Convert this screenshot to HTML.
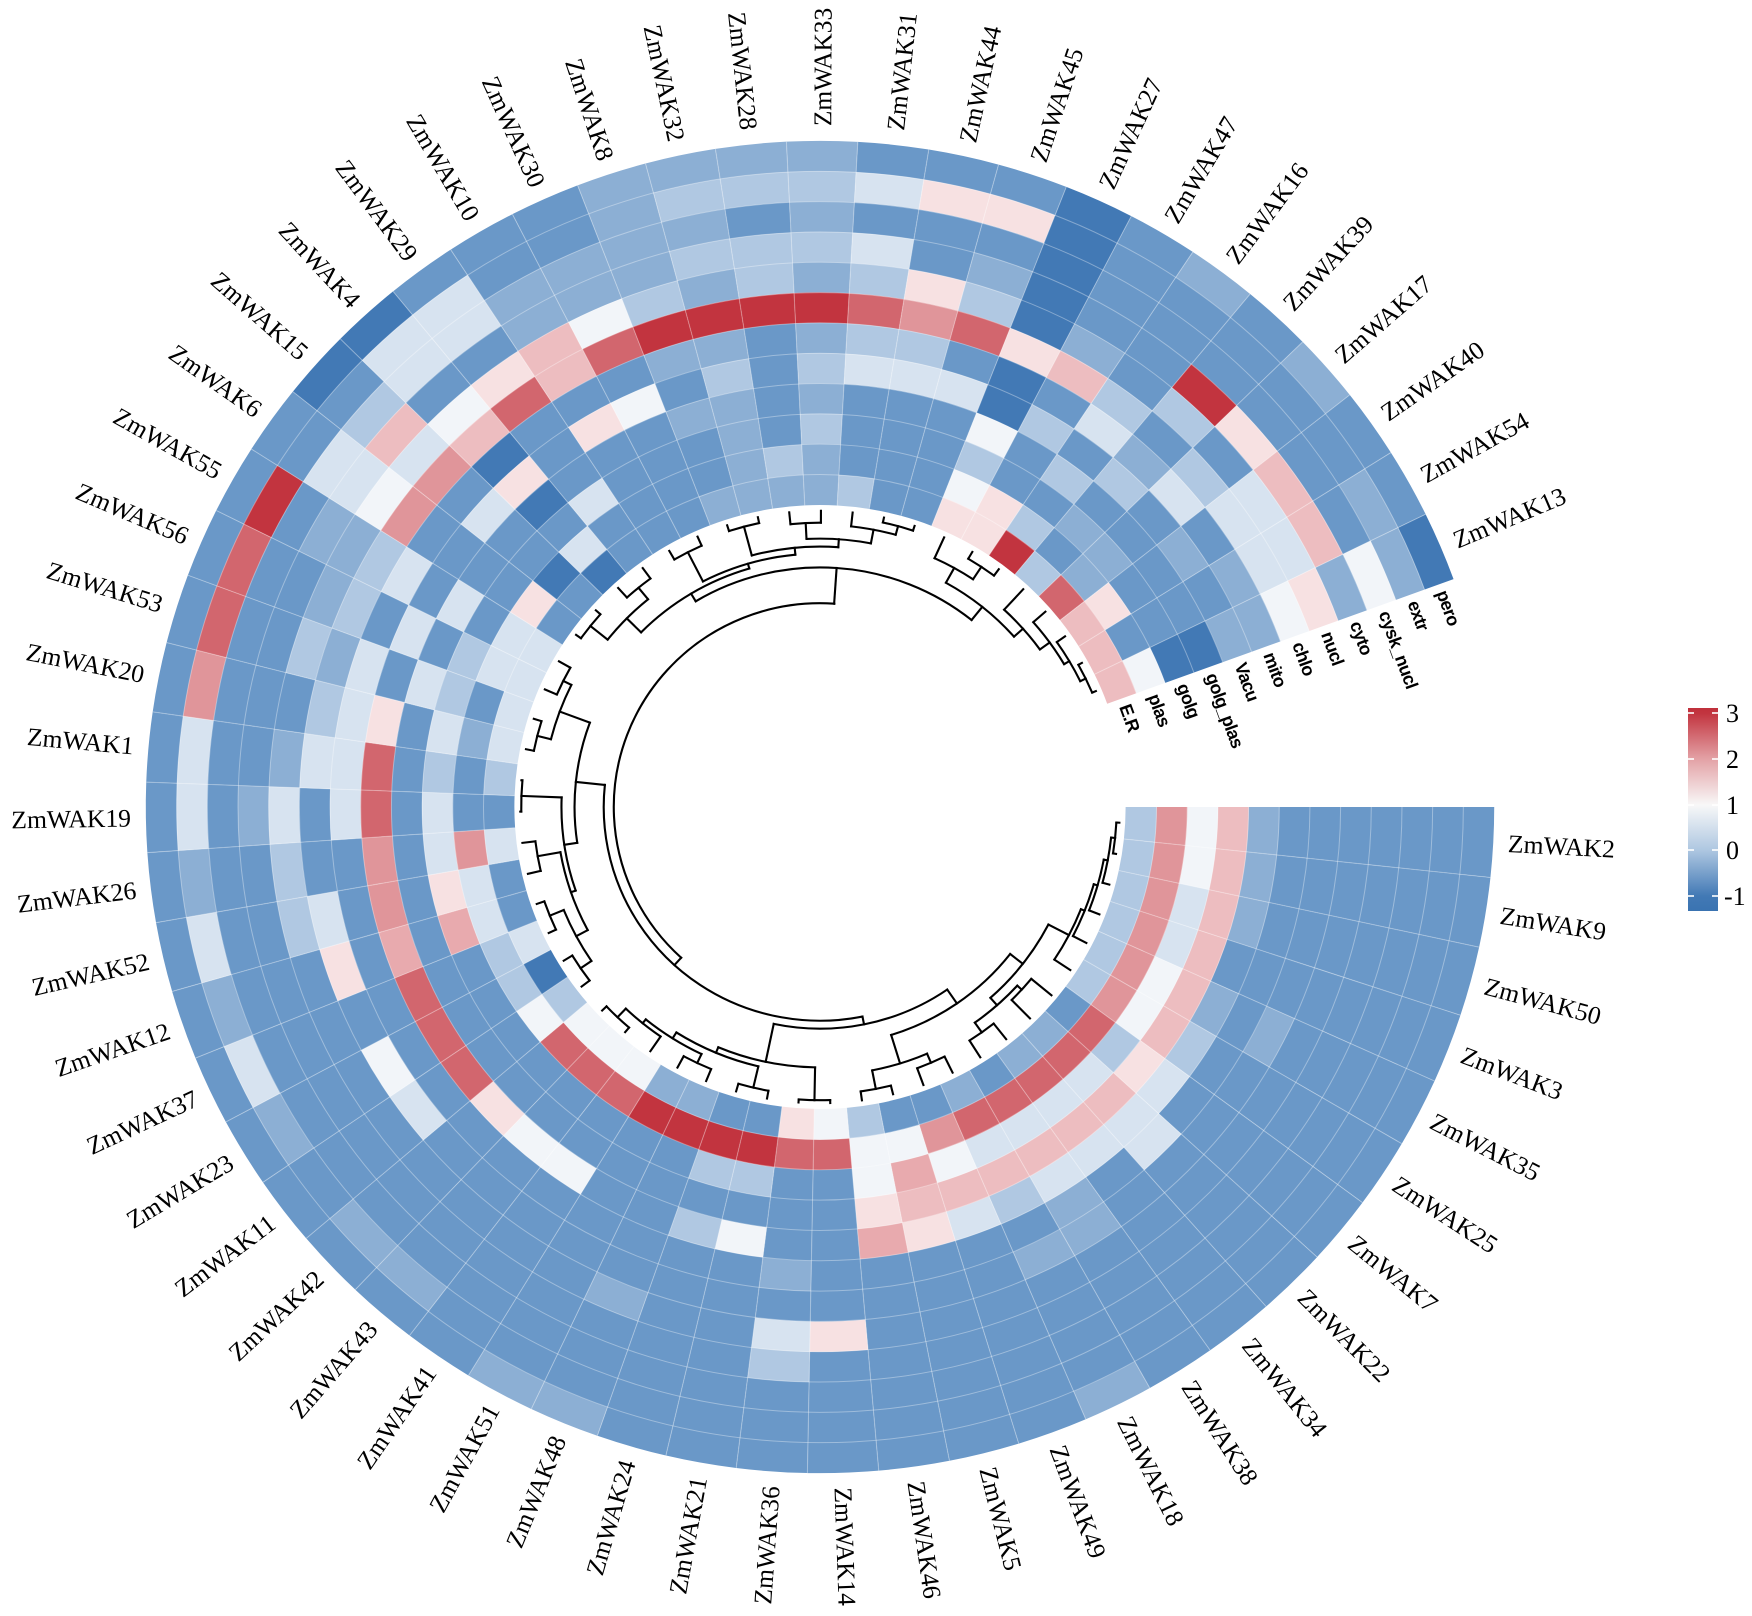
<!DOCTYPE html>
<html><head><meta charset="utf-8"><style>
html,body{margin:0;padding:0;background:#fff;overflow:hidden;}
svg{display:block;}
.tc{fill:none;stroke-width:30.9px;}
.q{stroke:#4279B5}.b{stroke:#6A98C8}.m{stroke:#8CAFD4}.l{stroke:#B0C8E2}.w{stroke:#D7E3F0}.v{stroke:#F2F5F9}
.p{stroke:#F7E1E2}.k{stroke:#EDBDC0}.h{stroke:#E8AAAE}.j{stroke:#E0959A}.r{stroke:#D2666E}.x{stroke:#C2343F}
.gl{font-family:"Liberation Serif","Times New Roman",serif;font-size:25.5px;fill:#000;}
.lg{font-family:"Liberation Serif","Times New Roman",serif;font-size:26px;fill:#000;}
.tl{font-family:"Liberation Sans",Arial,sans-serif;font-weight:bold;font-size:18px;letter-spacing:-0.6px;fill:#000;}
</style></head><body>
<svg width="1752" height="1616" viewBox="0 0 1752 1616" xmlns="http://www.w3.org/2000/svg">
<defs>
<circle id="t0" class="tc" r="654.75" stroke-dasharray="69.38 5000"/>
<circle id="t1" class="tc" r="624.25" stroke-dasharray="66.15 5000"/>
<circle id="t2" class="tc" r="593.75" stroke-dasharray="62.92 5000"/>
<circle id="t3" class="tc" r="563.25" stroke-dasharray="59.69 5000"/>
<circle id="t4" class="tc" r="532.75" stroke-dasharray="56.45 5000"/>
<circle id="t5" class="tc" r="502.25" stroke-dasharray="53.22 5000"/>
<circle id="t6" class="tc" r="471.75" stroke-dasharray="49.99 5000"/>
<circle id="t7" class="tc" r="441.25" stroke-dasharray="46.76 5000"/>
<circle id="t8" class="tc" r="410.75" stroke-dasharray="43.53 5000"/>
<circle id="t9" class="tc" r="380.25" stroke-dasharray="40.29 5000"/>
<circle id="t10" class="tc" r="349.75" stroke-dasharray="37.06 5000"/>
<circle id="t11" class="tc" r="319.25" stroke-dasharray="33.83 5000"/>
<linearGradient id="lg" x1="0" y1="0" x2="0" y2="1">
<stop offset="0" stop-color="#C0303B"/>
<stop offset="0.025" stop-color="#C2343F"/>
<stop offset="0.25" stop-color="#E3A1A5"/>
<stop offset="0.478" stop-color="#F8F8F8"/>
<stop offset="0.70" stop-color="#AEC7E1"/>
<stop offset="0.926" stop-color="#4279B5"/>
<stop offset="1" stop-color="#3A73B1"/>
</linearGradient>
</defs>
<rect width="1752" height="1616" fill="#fff"/>
<g transform="translate(820,807) scale(1.006,0.994)">
<!-- heatmap cells -->
<g transform="rotate(0)"><use href="#t0" class="b"/><use href="#t1" class="b"/><use href="#t2" class="b"/><use href="#t3" class="b"/><use href="#t4" class="b"/><use href="#t5" class="b"/><use href="#t6" class="b"/><use href="#t7" class="m"/><use href="#t8" class="k"/><use href="#t9" class="v"/><use href="#t10" class="j"/><use href="#t11" class="l"/></g>
<g transform="rotate(6.0714)"><use href="#t0" class="b"/><use href="#t1" class="b"/><use href="#t2" class="b"/><use href="#t3" class="b"/><use href="#t4" class="b"/><use href="#t5" class="b"/><use href="#t6" class="b"/><use href="#t7" class="m"/><use href="#t8" class="k"/><use href="#t9" class="v"/><use href="#t10" class="j"/><use href="#t11" class="l"/></g>
<g transform="rotate(12.1429)"><use href="#t0" class="b"/><use href="#t1" class="b"/><use href="#t2" class="b"/><use href="#t3" class="b"/><use href="#t4" class="b"/><use href="#t5" class="b"/><use href="#t6" class="b"/><use href="#t7" class="m"/><use href="#t8" class="k"/><use href="#t9" class="w"/><use href="#t10" class="j"/><use href="#t11" class="l"/></g>
<g transform="rotate(18.2143)"><use href="#t0" class="b"/><use href="#t1" class="b"/><use href="#t2" class="b"/><use href="#t3" class="b"/><use href="#t4" class="b"/><use href="#t5" class="b"/><use href="#t6" class="b"/><use href="#t7" class="b"/><use href="#t8" class="k"/><use href="#t9" class="w"/><use href="#t10" class="j"/><use href="#t11" class="l"/></g>
<g transform="rotate(24.2857)"><use href="#t0" class="b"/><use href="#t1" class="b"/><use href="#t2" class="b"/><use href="#t3" class="b"/><use href="#t4" class="b"/><use href="#t5" class="m"/><use href="#t6" class="b"/><use href="#t7" class="m"/><use href="#t8" class="k"/><use href="#t9" class="v"/><use href="#t10" class="j"/><use href="#t11" class="l"/></g>
<g transform="rotate(30.3571)"><use href="#t0" class="b"/><use href="#t1" class="b"/><use href="#t2" class="b"/><use href="#t3" class="b"/><use href="#t4" class="b"/><use href="#t5" class="b"/><use href="#t6" class="b"/><use href="#t7" class="l"/><use href="#t8" class="k"/><use href="#t9" class="v"/><use href="#t10" class="j"/><use href="#t11" class="l"/></g>
<g transform="rotate(36.4286)"><use href="#t0" class="b"/><use href="#t1" class="b"/><use href="#t2" class="b"/><use href="#t3" class="b"/><use href="#t4" class="b"/><use href="#t5" class="b"/><use href="#t6" class="b"/><use href="#t7" class="w"/><use href="#t8" class="p"/><use href="#t9" class="l"/><use href="#t10" class="r"/><use href="#t11" class="b"/></g>
<g transform="rotate(42.5)"><use href="#t0" class="b"/><use href="#t1" class="b"/><use href="#t2" class="b"/><use href="#t3" class="b"/><use href="#t4" class="b"/><use href="#t5" class="b"/><use href="#t6" class="w"/><use href="#t7" class="w"/><use href="#t8" class="k"/><use href="#t9" class="w"/><use href="#t10" class="r"/><use href="#t11" class="m"/></g>
<g transform="rotate(48.5714)"><use href="#t0" class="b"/><use href="#t1" class="b"/><use href="#t2" class="b"/><use href="#t3" class="b"/><use href="#t4" class="b"/><use href="#t5" class="b"/><use href="#t6" class="b"/><use href="#t7" class="w"/><use href="#t8" class="k"/><use href="#t9" class="w"/><use href="#t10" class="r"/><use href="#t11" class="m"/></g>
<g transform="rotate(54.6429)"><use href="#t0" class="b"/><use href="#t1" class="b"/><use href="#t2" class="b"/><use href="#t3" class="b"/><use href="#t4" class="b"/><use href="#t5" class="m"/><use href="#t6" class="m"/><use href="#t7" class="w"/><use href="#t8" class="k"/><use href="#t9" class="w"/><use href="#t10" class="r"/><use href="#t11" class="b"/></g>
<g transform="rotate(60.7143)"><use href="#t0" class="m"/><use href="#t1" class="b"/><use href="#t2" class="b"/><use href="#t3" class="b"/><use href="#t4" class="b"/><use href="#t5" class="m"/><use href="#t6" class="b"/><use href="#t7" class="l"/><use href="#t8" class="k"/><use href="#t9" class="w"/><use href="#t10" class="r"/><use href="#t11" class="m"/></g>
<g transform="rotate(66.7857)"><use href="#t0" class="b"/><use href="#t1" class="b"/><use href="#t2" class="b"/><use href="#t3" class="b"/><use href="#t4" class="b"/><use href="#t5" class="b"/><use href="#t6" class="b"/><use href="#t7" class="w"/><use href="#t8" class="k"/><use href="#t9" class="v"/><use href="#t10" class="j"/><use href="#t11" class="b"/></g>
<g transform="rotate(72.8571)"><use href="#t0" class="b"/><use href="#t1" class="b"/><use href="#t2" class="b"/><use href="#t3" class="b"/><use href="#t4" class="b"/><use href="#t5" class="b"/><use href="#t6" class="b"/><use href="#t7" class="p"/><use href="#t8" class="k"/><use href="#t9" class="h"/><use href="#t10" class="v"/><use href="#t11" class="b"/></g>
<g transform="rotate(78.9286)"><use href="#t0" class="b"/><use href="#t1" class="b"/><use href="#t2" class="b"/><use href="#t3" class="b"/><use href="#t4" class="b"/><use href="#t5" class="b"/><use href="#t6" class="b"/><use href="#t7" class="h"/><use href="#t8" class="p"/><use href="#t9" class="v"/><use href="#t10" class="v"/><use href="#t11" class="l"/></g>
<g transform="rotate(85)"><use href="#t0" class="b"/><use href="#t1" class="b"/><use href="#t2" class="b"/><use href="#t3" class="b"/><use href="#t4" class="p"/><use href="#t5" class="b"/><use href="#t6" class="b"/><use href="#t7" class="b"/><use href="#t8" class="b"/><use href="#t9" class="b"/><use href="#t10" class="r"/><use href="#t11" class="v"/></g>
<g transform="rotate(91.0714)"><use href="#t0" class="b"/><use href="#t1" class="b"/><use href="#t2" class="b"/><use href="#t3" class="l"/><use href="#t4" class="w"/><use href="#t5" class="b"/><use href="#t6" class="m"/><use href="#t7" class="b"/><use href="#t8" class="b"/><use href="#t9" class="b"/><use href="#t10" class="r"/><use href="#t11" class="p"/></g>
<g transform="rotate(97.1429)"><use href="#t0" class="b"/><use href="#t1" class="b"/><use href="#t2" class="b"/><use href="#t3" class="b"/><use href="#t4" class="b"/><use href="#t5" class="b"/><use href="#t6" class="b"/><use href="#t7" class="v"/><use href="#t8" class="b"/><use href="#t9" class="l"/><use href="#t10" class="x"/><use href="#t11" class="b"/></g>
<g transform="rotate(103.2143)"><use href="#t0" class="b"/><use href="#t1" class="b"/><use href="#t2" class="b"/><use href="#t3" class="b"/><use href="#t4" class="b"/><use href="#t5" class="b"/><use href="#t6" class="b"/><use href="#t7" class="l"/><use href="#t8" class="b"/><use href="#t9" class="l"/><use href="#t10" class="x"/><use href="#t11" class="b"/></g>
<g transform="rotate(109.2857)"><use href="#t0" class="m"/><use href="#t1" class="b"/><use href="#t2" class="b"/><use href="#t3" class="b"/><use href="#t4" class="m"/><use href="#t5" class="b"/><use href="#t6" class="b"/><use href="#t7" class="b"/><use href="#t8" class="b"/><use href="#t9" class="b"/><use href="#t10" class="x"/><use href="#t11" class="m"/></g>
<g transform="rotate(115.3571)"><use href="#t0" class="m"/><use href="#t1" class="b"/><use href="#t2" class="b"/><use href="#t3" class="b"/><use href="#t4" class="b"/><use href="#t5" class="b"/><use href="#t6" class="b"/><use href="#t7" class="b"/><use href="#t8" class="b"/><use href="#t9" class="b"/><use href="#t10" class="x"/><use href="#t11" class="m"/></g>
<g transform="rotate(121.4286)"><use href="#t0" class="b"/><use href="#t1" class="b"/><use href="#t2" class="b"/><use href="#t3" class="b"/><use href="#t4" class="b"/><use href="#t5" class="b"/><use href="#t6" class="b"/><use href="#t7" class="v"/><use href="#t8" class="b"/><use href="#t9" class="b"/><use href="#t10" class="r"/><use href="#t11" class="v"/></g>
<g transform="rotate(127.5)"><use href="#t0" class="b"/><use href="#t1" class="m"/><use href="#t2" class="b"/><use href="#t3" class="b"/><use href="#t4" class="b"/><use href="#t5" class="b"/><use href="#t6" class="b"/><use href="#t7" class="v"/><use href="#t8" class="b"/><use href="#t9" class="b"/><use href="#t10" class="r"/><use href="#t11" class="v"/></g>
<g transform="rotate(133.5714)"><use href="#t0" class="b"/><use href="#t1" class="m"/><use href="#t2" class="b"/><use href="#t3" class="b"/><use href="#t4" class="b"/><use href="#t5" class="b"/><use href="#t6" class="b"/><use href="#t7" class="p"/><use href="#t8" class="b"/><use href="#t9" class="b"/><use href="#t10" class="r"/><use href="#t11" class="v"/></g>
<g transform="rotate(139.6429)"><use href="#t0" class="b"/><use href="#t1" class="b"/><use href="#t2" class="b"/><use href="#t3" class="b"/><use href="#t4" class="b"/><use href="#t5" class="w"/><use href="#t6" class="b"/><use href="#t7" class="r"/><use href="#t8" class="b"/><use href="#t9" class="b"/><use href="#t10" class="v"/><use href="#t11" class="l"/></g>
<g transform="rotate(145.7143)"><use href="#t0" class="b"/><use href="#t1" class="m"/><use href="#t2" class="b"/><use href="#t3" class="b"/><use href="#t4" class="b"/><use href="#t5" class="v"/><use href="#t6" class="b"/><use href="#t7" class="r"/><use href="#t8" class="b"/><use href="#t9" class="b"/><use href="#t10" class="l"/><use href="#t11" class="q"/></g>
<g transform="rotate(151.7857)"><use href="#t0" class="b"/><use href="#t1" class="w"/><use href="#t2" class="b"/><use href="#t3" class="b"/><use href="#t4" class="b"/><use href="#t5" class="b"/><use href="#t6" class="b"/><use href="#t7" class="r"/><use href="#t8" class="b"/><use href="#t9" class="b"/><use href="#t10" class="l"/><use href="#t11" class="w"/></g>
<g transform="rotate(157.8571)"><use href="#t0" class="b"/><use href="#t1" class="m"/><use href="#t2" class="b"/><use href="#t3" class="b"/><use href="#t4" class="b"/><use href="#t5" class="p"/><use href="#t6" class="b"/><use href="#t7" class="h"/><use href="#t8" class="b"/><use href="#t9" class="h"/><use href="#t10" class="w"/><use href="#t11" class="b"/></g>
<g transform="rotate(163.9286)"><use href="#t0" class="b"/><use href="#t1" class="w"/><use href="#t2" class="b"/><use href="#t3" class="b"/><use href="#t4" class="l"/><use href="#t5" class="w"/><use href="#t6" class="b"/><use href="#t7" class="j"/><use href="#t8" class="b"/><use href="#t9" class="p"/><use href="#t10" class="w"/><use href="#t11" class="b"/></g>
<g transform="rotate(170)"><use href="#t0" class="b"/><use href="#t1" class="m"/><use href="#t2" class="b"/><use href="#t3" class="b"/><use href="#t4" class="l"/><use href="#t5" class="b"/><use href="#t6" class="b"/><use href="#t7" class="j"/><use href="#t8" class="b"/><use href="#t9" class="w"/><use href="#t10" class="j"/><use href="#t11" class="w"/></g>
<g transform="rotate(176.0714)"><use href="#t0" class="b"/><use href="#t1" class="w"/><use href="#t2" class="b"/><use href="#t3" class="m"/><use href="#t4" class="w"/><use href="#t5" class="b"/><use href="#t6" class="w"/><use href="#t7" class="r"/><use href="#t8" class="b"/><use href="#t9" class="w"/><use href="#t10" class="b"/><use href="#t11" class="b"/></g>
<g transform="rotate(182.1429)"><use href="#t0" class="b"/><use href="#t1" class="w"/><use href="#t2" class="b"/><use href="#t3" class="b"/><use href="#t4" class="m"/><use href="#t5" class="w"/><use href="#t6" class="w"/><use href="#t7" class="r"/><use href="#t8" class="b"/><use href="#t9" class="l"/><use href="#t10" class="b"/><use href="#t11" class="l"/></g>
<g transform="rotate(188.2143)"><use href="#t0" class="b"/><use href="#t1" class="j"/><use href="#t2" class="b"/><use href="#t3" class="b"/><use href="#t4" class="b"/><use href="#t5" class="l"/><use href="#t6" class="w"/><use href="#t7" class="p"/><use href="#t8" class="b"/><use href="#t9" class="w"/><use href="#t10" class="m"/><use href="#t11" class="w"/></g>
<g transform="rotate(194.2857)"><use href="#t0" class="b"/><use href="#t1" class="r"/><use href="#t2" class="b"/><use href="#t3" class="b"/><use href="#t4" class="l"/><use href="#t5" class="m"/><use href="#t6" class="w"/><use href="#t7" class="b"/><use href="#t8" class="w"/><use href="#t9" class="l"/><use href="#t10" class="b"/><use href="#t11" class="w"/></g>
<g transform="rotate(200.3571)"><use href="#t0" class="b"/><use href="#t1" class="r"/><use href="#t2" class="b"/><use href="#t3" class="b"/><use href="#t4" class="m"/><use href="#t5" class="l"/><use href="#t6" class="b"/><use href="#t7" class="w"/><use href="#t8" class="b"/><use href="#t9" class="l"/><use href="#t10" class="w"/><use href="#t11" class="w"/></g>
<g transform="rotate(206.4286)"><use href="#t0" class="b"/><use href="#t1" class="x"/><use href="#t2" class="b"/><use href="#t3" class="m"/><use href="#t4" class="m"/><use href="#t5" class="l"/><use href="#t6" class="w"/><use href="#t7" class="b"/><use href="#t8" class="w"/><use href="#t9" class="b"/><use href="#t10" class="w"/><use href="#t11" class="w"/></g>
<g transform="rotate(212.5)"><use href="#t0" class="b"/><use href="#t1" class="b"/><use href="#t2" class="w"/><use href="#t3" class="w"/><use href="#t4" class="v"/><use href="#t5" class="j"/><use href="#t6" class="b"/><use href="#t7" class="b"/><use href="#t8" class="b"/><use href="#t9" class="b"/><use href="#t10" class="p"/><use href="#t11" class="b"/></g>
<g transform="rotate(218.5714)"><use href="#t0" class="q"/><use href="#t1" class="b"/><use href="#t2" class="l"/><use href="#t3" class="k"/><use href="#t4" class="w"/><use href="#t5" class="j"/><use href="#t6" class="b"/><use href="#t7" class="w"/><use href="#t8" class="b"/><use href="#t9" class="b"/><use href="#t10" class="q"/><use href="#t11" class="b"/></g>
<g transform="rotate(224.6429)"><use href="#t0" class="q"/><use href="#t1" class="w"/><use href="#t2" class="w"/><use href="#t3" class="b"/><use href="#t4" class="v"/><use href="#t5" class="k"/><use href="#t6" class="q"/><use href="#t7" class="p"/><use href="#t8" class="q"/><use href="#t9" class="b"/><use href="#t10" class="w"/><use href="#t11" class="q"/></g>
<g transform="rotate(230.7143)"><use href="#t0" class="b"/><use href="#t1" class="w"/><use href="#t2" class="w"/><use href="#t3" class="b"/><use href="#t4" class="p"/><use href="#t5" class="r"/><use href="#t6" class="b"/><use href="#t7" class="b"/><use href="#t8" class="b"/><use href="#t9" class="w"/><use href="#t10" class="b"/><use href="#t11" class="b"/></g>
<g transform="rotate(236.7857)"><use href="#t0" class="b"/><use href="#t1" class="b"/><use href="#t2" class="m"/><use href="#t3" class="m"/><use href="#t4" class="k"/><use href="#t5" class="k"/><use href="#t6" class="b"/><use href="#t7" class="p"/><use href="#t8" class="b"/><use href="#t9" class="b"/><use href="#t10" class="b"/><use href="#t11" class="b"/></g>
<g transform="rotate(242.8571)"><use href="#t0" class="b"/><use href="#t1" class="b"/><use href="#t2" class="m"/><use href="#t3" class="m"/><use href="#t4" class="v"/><use href="#t5" class="r"/><use href="#t6" class="b"/><use href="#t7" class="v"/><use href="#t8" class="b"/><use href="#t9" class="b"/><use href="#t10" class="b"/><use href="#t11" class="b"/></g>
<g transform="rotate(248.9286)"><use href="#t0" class="m"/><use href="#t1" class="m"/><use href="#t2" class="m"/><use href="#t3" class="m"/><use href="#t4" class="l"/><use href="#t5" class="x"/><use href="#t6" class="m"/><use href="#t7" class="b"/><use href="#t8" class="m"/><use href="#t9" class="b"/><use href="#t10" class="b"/><use href="#t11" class="m"/></g>
<g transform="rotate(255)"><use href="#t0" class="m"/><use href="#t1" class="l"/><use href="#t2" class="m"/><use href="#t3" class="l"/><use href="#t4" class="m"/><use href="#t5" class="x"/><use href="#t6" class="m"/><use href="#t7" class="l"/><use href="#t8" class="m"/><use href="#t9" class="m"/><use href="#t10" class="m"/><use href="#t11" class="m"/></g>
<g transform="rotate(261.0714)"><use href="#t0" class="m"/><use href="#t1" class="l"/><use href="#t2" class="b"/><use href="#t3" class="l"/><use href="#t4" class="l"/><use href="#t5" class="x"/><use href="#t6" class="b"/><use href="#t7" class="b"/><use href="#t8" class="b"/><use href="#t9" class="b"/><use href="#t10" class="l"/><use href="#t11" class="m"/></g>
<g transform="rotate(267.1429)"><use href="#t0" class="m"/><use href="#t1" class="l"/><use href="#t2" class="m"/><use href="#t3" class="l"/><use href="#t4" class="m"/><use href="#t5" class="x"/><use href="#t6" class="m"/><use href="#t7" class="l"/><use href="#t8" class="m"/><use href="#t9" class="l"/><use href="#t10" class="m"/><use href="#t11" class="m"/></g>
<g transform="rotate(273.2143)"><use href="#t0" class="b"/><use href="#t1" class="w"/><use href="#t2" class="b"/><use href="#t3" class="w"/><use href="#t4" class="l"/><use href="#t5" class="r"/><use href="#t6" class="l"/><use href="#t7" class="w"/><use href="#t8" class="b"/><use href="#t9" class="b"/><use href="#t10" class="b"/><use href="#t11" class="l"/></g>
<g transform="rotate(279.2857)"><use href="#t0" class="b"/><use href="#t1" class="p"/><use href="#t2" class="b"/><use href="#t3" class="b"/><use href="#t4" class="p"/><use href="#t5" class="j"/><use href="#t6" class="l"/><use href="#t7" class="w"/><use href="#t8" class="b"/><use href="#t9" class="b"/><use href="#t10" class="b"/><use href="#t11" class="b"/></g>
<g transform="rotate(285.3571)"><use href="#t0" class="b"/><use href="#t1" class="p"/><use href="#t2" class="b"/><use href="#t3" class="m"/><use href="#t4" class="l"/><use href="#t5" class="r"/><use href="#t6" class="b"/><use href="#t7" class="w"/><use href="#t8" class="b"/><use href="#t9" class="b"/><use href="#t10" class="b"/><use href="#t11" class="b"/></g>
<g transform="rotate(291.4286)"><use href="#t0" class="q"/><use href="#t1" class="q"/><use href="#t2" class="q"/><use href="#t3" class="q"/><use href="#t4" class="q"/><use href="#t5" class="p"/><use href="#t6" class="q"/><use href="#t7" class="q"/><use href="#t8" class="v"/><use href="#t9" class="l"/><use href="#t10" class="v"/><use href="#t11" class="p"/></g>
<g transform="rotate(297.5)"><use href="#t0" class="b"/><use href="#t1" class="b"/><use href="#t2" class="b"/><use href="#t3" class="b"/><use href="#t4" class="m"/><use href="#t5" class="k"/><use href="#t6" class="b"/><use href="#t7" class="l"/><use href="#t8" class="b"/><use href="#t9" class="b"/><use href="#t10" class="p"/><use href="#t11" class="p"/></g>
<g transform="rotate(303.5714)"><use href="#t0" class="m"/><use href="#t1" class="b"/><use href="#t2" class="b"/><use href="#t3" class="b"/><use href="#t4" class="b"/><use href="#t5" class="l"/><use href="#t6" class="w"/><use href="#t7" class="b"/><use href="#t8" class="l"/><use href="#t9" class="b"/><use href="#t10" class="l"/><use href="#t11" class="x"/></g>
<g transform="rotate(309.6429)"><use href="#t0" class="b"/><use href="#t1" class="b"/><use href="#t2" class="b"/><use href="#t3" class="x"/><use href="#t4" class="l"/><use href="#t5" class="b"/><use href="#t6" class="m"/><use href="#t7" class="l"/><use href="#t8" class="b"/><use href="#t9" class="m"/><use href="#t10" class="b"/><use href="#t11" class="l"/></g>
<g transform="rotate(315.7143)"><use href="#t0" class="m"/><use href="#t1" class="b"/><use href="#t2" class="b"/><use href="#t3" class="p"/><use href="#t4" class="b"/><use href="#t5" class="l"/><use href="#t6" class="w"/><use href="#t7" class="b"/><use href="#t8" class="b"/><use href="#t9" class="m"/><use href="#t10" class="m"/><use href="#t11" class="r"/></g>
<g transform="rotate(321.7857)"><use href="#t0" class="b"/><use href="#t1" class="b"/><use href="#t2" class="b"/><use href="#t3" class="k"/><use href="#t4" class="w"/><use href="#t5" class="w"/><use href="#t6" class="b"/><use href="#t7" class="m"/><use href="#t8" class="b"/><use href="#t9" class="b"/><use href="#t10" class="p"/><use href="#t11" class="k"/></g>
<g transform="rotate(327.8571)"><use href="#t0" class="b"/><use href="#t1" class="m"/><use href="#t2" class="b"/><use href="#t3" class="k"/><use href="#t4" class="w"/><use href="#t5" class="w"/><use href="#t6" class="m"/><use href="#t7" class="b"/><use href="#t8" class="b"/><use href="#t9" class="b"/><use href="#t10" class="b"/><use href="#t11" class="k"/></g>
<g transform="rotate(333.9286)"><use href="#t0" class="q"/><use href="#t1" class="m"/><use href="#t2" class="v"/><use href="#t3" class="m"/><use href="#t4" class="p"/><use href="#t5" class="v"/><use href="#t6" class="m"/><use href="#t7" class="m"/><use href="#t8" class="q"/><use href="#t9" class="q"/><use href="#t10" class="v"/><use href="#t11" class="k"/></g>

<!-- faint separators -->
<g fill="none" stroke="#ffffff" stroke-opacity="0.35" stroke-width="1">
<circle r="334.5" stroke-dasharray="1984.96 5000"/>
<circle r="365" stroke-dasharray="2165.95 5000"/>
<circle r="395.5" stroke-dasharray="2346.94 5000"/>
<circle r="426" stroke-dasharray="2527.94 5000"/>
<circle r="456.5" stroke-dasharray="2708.93 5000"/>
<circle r="487" stroke-dasharray="2889.92 5000"/>
<circle r="517.5" stroke-dasharray="3070.91 5000"/>
<circle r="548" stroke-dasharray="3251.90 5000"/>
<circle r="578.5" stroke-dasharray="3432.89 5000"/>
<circle r="609" stroke-dasharray="3613.88 5000"/>
<circle r="639.5" stroke-dasharray="3794.87 5000"/>
<line x1="304" x2="670" transform="rotate(6.0714)"/><line x1="304" x2="670" transform="rotate(12.1429)"/><line x1="304" x2="670" transform="rotate(18.2143)"/><line x1="304" x2="670" transform="rotate(24.2857)"/><line x1="304" x2="670" transform="rotate(30.3571)"/><line x1="304" x2="670" transform="rotate(36.4286)"/><line x1="304" x2="670" transform="rotate(42.5)"/><line x1="304" x2="670" transform="rotate(48.5714)"/><line x1="304" x2="670" transform="rotate(54.6429)"/><line x1="304" x2="670" transform="rotate(60.7143)"/>
<line x1="304" x2="670" transform="rotate(66.7857)"/><line x1="304" x2="670" transform="rotate(72.8571)"/><line x1="304" x2="670" transform="rotate(78.9286)"/><line x1="304" x2="670" transform="rotate(85)"/><line x1="304" x2="670" transform="rotate(91.0714)"/><line x1="304" x2="670" transform="rotate(97.1429)"/><line x1="304" x2="670" transform="rotate(103.2143)"/><line x1="304" x2="670" transform="rotate(109.2857)"/><line x1="304" x2="670" transform="rotate(115.3571)"/><line x1="304" x2="670" transform="rotate(121.4286)"/>
<line x1="304" x2="670" transform="rotate(127.5)"/><line x1="304" x2="670" transform="rotate(133.5714)"/><line x1="304" x2="670" transform="rotate(139.6429)"/><line x1="304" x2="670" transform="rotate(145.7143)"/><line x1="304" x2="670" transform="rotate(151.7857)"/><line x1="304" x2="670" transform="rotate(157.8571)"/><line x1="304" x2="670" transform="rotate(163.9286)"/><line x1="304" x2="670" transform="rotate(170)"/><line x1="304" x2="670" transform="rotate(176.0714)"/><line x1="304" x2="670" transform="rotate(182.1429)"/>
<line x1="304" x2="670" transform="rotate(188.2143)"/><line x1="304" x2="670" transform="rotate(194.2857)"/><line x1="304" x2="670" transform="rotate(200.3571)"/><line x1="304" x2="670" transform="rotate(206.4286)"/><line x1="304" x2="670" transform="rotate(212.5)"/><line x1="304" x2="670" transform="rotate(218.5714)"/><line x1="304" x2="670" transform="rotate(224.6429)"/><line x1="304" x2="670" transform="rotate(230.7143)"/><line x1="304" x2="670" transform="rotate(236.7857)"/><line x1="304" x2="670" transform="rotate(242.8571)"/>
<line x1="304" x2="670" transform="rotate(248.9286)"/><line x1="304" x2="670" transform="rotate(255)"/><line x1="304" x2="670" transform="rotate(261.0714)"/><line x1="304" x2="670" transform="rotate(267.1429)"/><line x1="304" x2="670" transform="rotate(273.2143)"/><line x1="304" x2="670" transform="rotate(279.2857)"/><line x1="304" x2="670" transform="rotate(285.3571)"/><line x1="304" x2="670" transform="rotate(291.4286)"/><line x1="304" x2="670" transform="rotate(297.5)"/><line x1="304" x2="670" transform="rotate(303.5714)"/>
<line x1="304" x2="670" transform="rotate(309.6429)"/><line x1="304" x2="670" transform="rotate(315.7143)"/><line x1="304" x2="670" transform="rotate(321.7857)"/><line x1="304" x2="670" transform="rotate(327.8571)"/><line x1="304" x2="670" transform="rotate(333.9286)"/>
</g>

<!-- dendrogram -->
<g fill="none" stroke="#000" stroke-width="2.1" stroke-linecap="square">
<circle r="295" stroke-dasharray="31.25 5000" transform="rotate(3.04)"/>
<circle r="291" stroke-dasharray="46.27 5000" transform="rotate(6.07)"/>
<circle r="287" stroke-dasharray="53.20 5000" transform="rotate(10.63)"/>
<circle r="283" stroke-dasharray="56.21 5000" transform="rotate(15.94)"/>
<circle r="279" stroke-dasharray="57.27 5000" transform="rotate(21.63)"/>
<circle r="272" stroke-dasharray="28.86 5000" transform="rotate(39.46)"/>
<circle r="278" stroke-dasharray="29.45 5000" transform="rotate(51.61)"/>
<circle r="266" stroke-dasharray="56.41 5000" transform="rotate(42.5)"/>
<circle r="256" stroke-dasharray="94.10 5000" transform="rotate(27.51)"/>
<circle r="280" stroke-dasharray="29.66 5000" transform="rotate(63.75)"/>
<circle r="289" stroke-dasharray="30.62 5000" transform="rotate(75.89)"/>
<circle r="270" stroke-dasharray="57.21 5000" transform="rotate(66.79)"/>
<circle r="240" stroke-dasharray="145.85 5000" transform="rotate(38.04)"/>
<circle r="295" stroke-dasharray="31.25 5000" transform="rotate(88.04)"/>
<circle r="290" stroke-dasharray="30.72 5000" transform="rotate(100.18)"/>
<circle r="285" stroke-dasharray="30.19 5000" transform="rotate(112.32)"/>
<circle r="292" stroke-dasharray="30.93 5000" transform="rotate(130.54)"/>
<circle r="280" stroke-dasharray="44.57 5000" transform="rotate(124.46)"/>
<circle r="275" stroke-dasharray="65.56 5000" transform="rotate(115.36)"/>
<circle r="268" stroke-dasharray="88.73 5000" transform="rotate(103.22)"/>
<circle r="262" stroke-dasharray="98.91 5000" transform="rotate(91.07)"/>
<circle r="223" stroke-dasharray="180.79 5000" transform="rotate(55.45)"/>
<circle r="285" stroke-dasharray="30.24 5000" transform="rotate(166.96)"/>
<circle r="288" stroke-dasharray="30.51 5000" transform="rotate(142.68)"/>
<circle r="290" stroke-dasharray="30.72 5000" transform="rotate(154.82)"/>
<circle r="275" stroke-dasharray="58.27 5000" transform="rotate(145.72)"/>
<circle r="262" stroke-dasharray="83.27 5000" transform="rotate(151.79)"/>
<circle r="297" stroke-dasharray="31.46 5000" transform="rotate(179.11)"/>
<circle r="257" stroke-dasharray="95.32 5000" transform="rotate(160.9)"/>
<circle r="290" stroke-dasharray="30.72 5000" transform="rotate(191.25)"/>
<circle r="285" stroke-dasharray="30.19 5000" transform="rotate(203.39)"/>
<circle r="276" stroke-dasharray="58.48 5000" transform="rotate(194.29)"/>
<circle r="244" stroke-dasharray="122.9 5000" transform="rotate(171.5)"/>
<circle r="215" stroke-dasharray="402.45 5000" transform="rotate(78.68)"/>
<circle r="292" stroke-dasharray="30.93 5000" transform="rotate(215.54)"/>
<circle r="285" stroke-dasharray="30.19 5000" transform="rotate(227.68)"/>
<circle r="270" stroke-dasharray="57.21 5000" transform="rotate(218.58)"/>
<circle r="288" stroke-dasharray="30.51 5000" transform="rotate(239.82)"/>
<circle r="292" stroke-dasharray="30.98 5000" transform="rotate(251.96)"/>
<circle r="286" stroke-dasharray="30.30 5000" transform="rotate(264.11)"/>
<circle r="293" stroke-dasharray="31.04 5000" transform="rotate(282.32)"/>
<circle r="284" stroke-dasharray="45.16 5000" transform="rotate(276.25)"/>
<circle r="270" stroke-dasharray="64.32 5000" transform="rotate(267.15)"/>
<circle r="262" stroke-dasharray="86.79 5000" transform="rotate(255)"/>
<circle r="255" stroke-dasharray="96.27 5000" transform="rotate(242.86)"/>
<circle r="250" stroke-dasharray="126.67 5000" transform="rotate(224.65)"/>
<circle r="290" stroke-dasharray="30.72 5000" transform="rotate(300.54)"/>
<circle r="275" stroke-dasharray="43.77 5000" transform="rotate(294.46)"/>
<circle r="294" stroke-dasharray="31.15 5000" transform="rotate(330.89)"/>
<circle r="288" stroke-dasharray="45.79 5000" transform="rotate(324.82)"/>
<circle r="282" stroke-dasharray="52.27 5000" transform="rotate(318.75)"/>
<circle r="270" stroke-dasharray="53.63 5000" transform="rotate(312.68)"/>
<circle r="258" stroke-dasharray="87.13 5000" transform="rotate(299.02)"/>
<circle r="241" stroke-dasharray="292.51 5000" transform="rotate(239.16)"/>
<circle r="205" stroke-dasharray="506.75 5000" transform="rotate(132.3)"/>
<line x1="295" x2="298" transform="rotate(3.04)"/>
<line x1="295" x2="298" transform="rotate(9.11)"/>
<line x1="291" x2="298" transform="rotate(15.18)"/>
<line x1="287" x2="298" transform="rotate(21.25)"/>
<line x1="283" x2="298" transform="rotate(27.32)"/>
<line x1="279" x2="298" transform="rotate(33.39)"/>
<line x1="272" x2="298" transform="rotate(39.46)"/>
<line x1="272" x2="298" transform="rotate(45.54)"/>
<line x1="278" x2="298" transform="rotate(51.61)"/>
<line x1="278" x2="298" transform="rotate(57.68)"/>
<line x1="280" x2="298" transform="rotate(63.75)"/>
<line x1="280" x2="298" transform="rotate(69.82)"/>
<line x1="289" x2="298" transform="rotate(75.89)"/>
<line x1="289" x2="298" transform="rotate(81.96)"/>
<line x1="295" x2="298" transform="rotate(88.04)"/>
<line x1="295" x2="298" transform="rotate(94.11)"/>
<line x1="290" x2="298" transform="rotate(100.18)"/>
<line x1="290" x2="298" transform="rotate(106.25)"/>
<line x1="285" x2="298" transform="rotate(112.32)"/>
<line x1="285" x2="298" transform="rotate(118.39)"/>
<line x1="280" x2="298" transform="rotate(124.46)"/>
<line x1="292" x2="298" transform="rotate(130.54)"/>
<line x1="292" x2="298" transform="rotate(136.61)"/>
<line x1="288" x2="298" transform="rotate(142.68)"/>
<line x1="288" x2="298" transform="rotate(148.75)"/>
<line x1="290" x2="298" transform="rotate(154.82)"/>
<line x1="290" x2="298" transform="rotate(160.89)"/>
<line x1="285" x2="298" transform="rotate(166.96)"/>
<line x1="285" x2="298" transform="rotate(173.04)"/>
<line x1="297" x2="298" transform="rotate(179.11)"/>
<line x1="297" x2="298" transform="rotate(185.18)"/>
<line x1="290" x2="298" transform="rotate(191.25)"/>
<line x1="290" x2="298" transform="rotate(197.32)"/>
<line x1="285" x2="298" transform="rotate(203.39)"/>
<line x1="285" x2="298" transform="rotate(209.46)"/>
<line x1="292" x2="298" transform="rotate(215.54)"/>
<line x1="292" x2="298" transform="rotate(221.61)"/>
<line x1="285" x2="298" transform="rotate(227.68)"/>
<line x1="285" x2="298" transform="rotate(233.75)"/>
<line x1="288" x2="298" transform="rotate(239.82)"/>
<line x1="288" x2="298" transform="rotate(245.89)"/>
<line x1="292" x2="298" transform="rotate(251.96)"/>
<line x1="292" x2="298" transform="rotate(258.04)"/>
<line x1="286" x2="298" transform="rotate(264.11)"/>
<line x1="286" x2="298" transform="rotate(270.18)"/>
<line x1="284" x2="298" transform="rotate(276.25)"/>
<line x1="293" x2="298" transform="rotate(282.32)"/>
<line x1="293" x2="298" transform="rotate(288.39)"/>
<line x1="275" x2="298" transform="rotate(294.46)"/>
<line x1="290" x2="298" transform="rotate(300.54)"/>
<line x1="290" x2="298" transform="rotate(306.61)"/>
<line x1="270" x2="298" transform="rotate(312.68)"/>
<line x1="282" x2="298" transform="rotate(318.75)"/>
<line x1="288" x2="298" transform="rotate(324.82)"/>
<line x1="294" x2="298" transform="rotate(330.89)"/>
<line x1="294" x2="298" transform="rotate(336.96)"/>
<line x1="291" x2="295" transform="rotate(6.07)"/>
<line x1="287" x2="291" transform="rotate(10.63)"/>
<line x1="283" x2="287" transform="rotate(15.94)"/>
<line x1="279" x2="283" transform="rotate(21.63)"/>
<line x1="256" x2="279" transform="rotate(27.51)"/>
<line x1="266" x2="272" transform="rotate(42.5)"/>
<line x1="266" x2="278" transform="rotate(54.65)"/>
<line x1="256" x2="266" transform="rotate(48.57)"/>
<line x1="240" x2="256" transform="rotate(38.04)"/>
<line x1="270" x2="280" transform="rotate(66.79)"/>
<line x1="270" x2="289" transform="rotate(78.93)"/>
<line x1="240" x2="270" transform="rotate(72.86)"/>
<line x1="223" x2="240" transform="rotate(55.45)"/>
<line x1="262" x2="295" transform="rotate(91.07)"/>
<line x1="268" x2="290" transform="rotate(103.22)"/>
<line x1="275" x2="285" transform="rotate(115.36)"/>
<line x1="280" x2="292" transform="rotate(133.58)"/>
<line x1="275" x2="280" transform="rotate(129.02)"/>
<line x1="268" x2="275" transform="rotate(122.19)"/>
<line x1="262" x2="268" transform="rotate(112.7)"/>
<line x1="223" x2="262" transform="rotate(101.9)"/>
<line x1="215" x2="223" transform="rotate(78.68)"/>
<line x1="262" x2="285" transform="rotate(170.0)"/>
<line x1="275" x2="288" transform="rotate(145.72)"/>
<line x1="275" x2="290" transform="rotate(157.86)"/>
<line x1="262" x2="275" transform="rotate(151.79)"/>
<line x1="257" x2="262" transform="rotate(160.9)"/>
<line x1="257" x2="297" transform="rotate(182.15)"/>
<line x1="244" x2="257" transform="rotate(171.5)"/>
<line x1="276" x2="290" transform="rotate(194.29)"/>
<line x1="276" x2="285" transform="rotate(206.43)"/>
<line x1="244" x2="276" transform="rotate(200.36)"/>
<line x1="215" x2="244" transform="rotate(185.93)"/>
<line x1="205" x2="215" transform="rotate(132.3)"/>
<line x1="270" x2="292" transform="rotate(218.58)"/>
<line x1="270" x2="285" transform="rotate(230.72)"/>
<line x1="250" x2="270" transform="rotate(224.65)"/>
<line x1="255" x2="288" transform="rotate(242.86)"/>
<line x1="262" x2="292" transform="rotate(255.0)"/>
<line x1="270" x2="286" transform="rotate(267.15)"/>
<line x1="284" x2="293" transform="rotate(285.36)"/>
<line x1="270" x2="284" transform="rotate(280.8)"/>
<line x1="262" x2="270" transform="rotate(273.98)"/>
<line x1="255" x2="262" transform="rotate(264.49)"/>
<line x1="250" x2="255" transform="rotate(253.68)"/>
<line x1="241" x2="250" transform="rotate(239.16)"/>
<line x1="275" x2="290" transform="rotate(303.58)"/>
<line x1="258" x2="275" transform="rotate(299.02)"/>
<line x1="288" x2="294" transform="rotate(333.93)"/>
<line x1="282" x2="288" transform="rotate(329.37)"/>
<line x1="270" x2="282" transform="rotate(324.06)"/>
<line x1="258" x2="270" transform="rotate(318.37)"/>
<line x1="241" x2="258" transform="rotate(308.7)"/>
<line x1="205" x2="241" transform="rotate(273.93)"/>
</g>

<!-- gene labels -->
<g class="gl">
<text transform="rotate(3.04) translate(685 0)" dy="9">ZmWAK2</text>
<text transform="rotate(9.11) translate(685 0)" dy="9">ZmWAK9</text>
<text transform="rotate(15.18) translate(685 0)" dy="9">ZmWAK50</text>
<text transform="rotate(21.25) translate(685 0)" dy="9">ZmWAK3</text>
<text transform="rotate(27.32) translate(685 0)" dy="9">ZmWAK35</text>
<text transform="rotate(33.39) translate(685 0)" dy="9">ZmWAK25</text>
<text transform="rotate(39.46) translate(685 0)" dy="9">ZmWAK7</text>
<text transform="rotate(45.54) translate(685 0)" dy="9">ZmWAK22</text>
<text transform="rotate(51.61) translate(685 0)" dy="9">ZmWAK34</text>
<text transform="rotate(57.68) translate(685 0)" dy="9">ZmWAK38</text>
<text transform="rotate(63.75) translate(685 0)" dy="9">ZmWAK18</text>
<text transform="rotate(69.82) translate(685 0)" dy="9">ZmWAK49</text>
<text transform="rotate(75.89) translate(685 0)" dy="9">ZmWAK5</text>
<text transform="rotate(81.96) translate(685 0)" dy="9">ZmWAK46</text>
<text transform="rotate(88.04) translate(685 0)" dy="9">ZmWAK14</text>
<g text-anchor="end">
<text transform="rotate(-85.89) translate(-685 0)" dy="9">ZmWAK36</text>
<text transform="rotate(-79.82) translate(-685 0)" dy="9">ZmWAK21</text>
<text transform="rotate(-73.75) translate(-685 0)" dy="9">ZmWAK24</text>
<text transform="rotate(-67.68) translate(-685 0)" dy="9">ZmWAK48</text>
<text transform="rotate(-61.61) translate(-685 0)" dy="9">ZmWAK51</text>
<text transform="rotate(-55.54) translate(-685 0)" dy="9">ZmWAK41</text>
<text transform="rotate(-49.46) translate(-685 0)" dy="9">ZmWAK43</text>
<text transform="rotate(-43.39) translate(-685 0)" dy="9">ZmWAK42</text>
<text transform="rotate(-37.32) translate(-685 0)" dy="9">ZmWAK11</text>
<text transform="rotate(-31.25) translate(-685 0)" dy="9">ZmWAK23</text>
<text transform="rotate(-25.18) translate(-685 0)" dy="9">ZmWAK37</text>
<text transform="rotate(-19.11) translate(-685 0)" dy="9">ZmWAK12</text>
<text transform="rotate(-13.04) translate(-685 0)" dy="9">ZmWAK52</text>
<text transform="rotate(-6.96) translate(-685 0)" dy="9">ZmWAK26</text>
<text transform="rotate(-0.89) translate(-685 0)" dy="9">ZmWAK19</text>
<text transform="rotate(5.18) translate(-685 0)" dy="9">ZmWAK1</text>
<text transform="rotate(11.25) translate(-685 0)" dy="9">ZmWAK20</text>
<text transform="rotate(17.32) translate(-685 0)" dy="9">ZmWAK53</text>
<text transform="rotate(23.39) translate(-685 0)" dy="9">ZmWAK56</text>
<text transform="rotate(29.46) translate(-685 0)" dy="9">ZmWAK55</text>
<text transform="rotate(35.54) translate(-685 0)" dy="9">ZmWAK6</text>
<text transform="rotate(41.61) translate(-685 0)" dy="9">ZmWAK15</text>
<text transform="rotate(47.68) translate(-685 0)" dy="9">ZmWAK4</text>
<text transform="rotate(53.75) translate(-685 0)" dy="9">ZmWAK29</text>
<text transform="rotate(59.82) translate(-685 0)" dy="9">ZmWAK10</text>
<text transform="rotate(65.89) translate(-685 0)" dy="9">ZmWAK30</text>
<text transform="rotate(71.96) translate(-685 0)" dy="9">ZmWAK8</text>
<text transform="rotate(78.04) translate(-685 0)" dy="9">ZmWAK32</text>
<text transform="rotate(84.11) translate(-685 0)" dy="9">ZmWAK28</text>
</g>
<text transform="rotate(-89.82) translate(685 0)" dy="9">ZmWAK33</text>
<text transform="rotate(-83.75) translate(685 0)" dy="9">ZmWAK31</text>
<text transform="rotate(-77.68) translate(685 0)" dy="9">ZmWAK44</text>
<text transform="rotate(-71.61) translate(685 0)" dy="9">ZmWAK45</text>
<text transform="rotate(-65.54) translate(685 0)" dy="9">ZmWAK27</text>
<text transform="rotate(-59.46) translate(685 0)" dy="9">ZmWAK47</text>
<text transform="rotate(-53.39) translate(685 0)" dy="9">ZmWAK16</text>
<text transform="rotate(-47.32) translate(685 0)" dy="9">ZmWAK39</text>
<text transform="rotate(-41.25) translate(685 0)" dy="9">ZmWAK17</text>
<text transform="rotate(-35.18) translate(685 0)" dy="9">ZmWAK40</text>
<text transform="rotate(-29.11) translate(685 0)" dy="9">ZmWAK54</text>
<text transform="rotate(-23.04) translate(685 0)" dy="9">ZmWAK13</text>
</g>

<!-- track labels -->
<g class="tl">
<text transform="rotate(340) translate(654.75 0) rotate(90)" x="7" dy="5.5">pero</text>
<text transform="rotate(340) translate(624.25 0) rotate(90)" x="7" dy="5.5">extr</text>
<text transform="rotate(340) translate(593.75 0) rotate(90)" x="7" dy="5.5">cysk_nucl</text>
<text transform="rotate(340) translate(563.25 0) rotate(90)" x="7" dy="5.5">cyto</text>
<text transform="rotate(340) translate(532.75 0) rotate(90)" x="7" dy="5.5">nucl</text>
<text transform="rotate(340) translate(502.25 0) rotate(90)" x="7" dy="5.5">chlo</text>
<text transform="rotate(340) translate(471.75 0) rotate(90)" x="7" dy="5.5">mito</text>
<text transform="rotate(340) translate(441.25 0) rotate(90)" x="7" dy="5.5">Vacu</text>
<text transform="rotate(340) translate(410.75 0) rotate(90)" x="7" dy="5.5">golg_plas</text>
<text transform="rotate(340) translate(380.25 0) rotate(90)" x="7" dy="5.5">golg</text>
<text transform="rotate(340) translate(349.75 0) rotate(90)" x="7" dy="5.5">plas</text>
<text transform="rotate(340) translate(319.25 0) rotate(90)" x="7" dy="5.5">E.R</text>
</g>
</g>

<!-- legend -->
<rect x="1688" y="708" width="30" height="203" fill="url(#lg)"/>
<g stroke="#fff" stroke-width="1.6">
<line x1="1688" y1="713" x2="1694" y2="713"/><line x1="1712" y1="713" x2="1718" y2="713"/>
<line x1="1688" y1="759" x2="1694" y2="759"/><line x1="1712" y1="759" x2="1718" y2="759"/>
<line x1="1688" y1="805" x2="1694" y2="805"/><line x1="1712" y1="805" x2="1718" y2="805"/>
<line x1="1688" y1="850" x2="1694" y2="850"/><line x1="1712" y1="850" x2="1718" y2="850"/>
<line x1="1688" y1="896" x2="1694" y2="896"/><line x1="1712" y1="896" x2="1718" y2="896"/>
</g>
<g class="lg">
<text x="1726" y="713" dy="9">3</text>
<text x="1726" y="759" dy="9">2</text>
<text x="1726" y="805" dy="9">1</text>
<text x="1726" y="850" dy="9">0</text>
<text x="1724" y="896" dy="9">-1</text>
</g>
</svg>
</body></html>
